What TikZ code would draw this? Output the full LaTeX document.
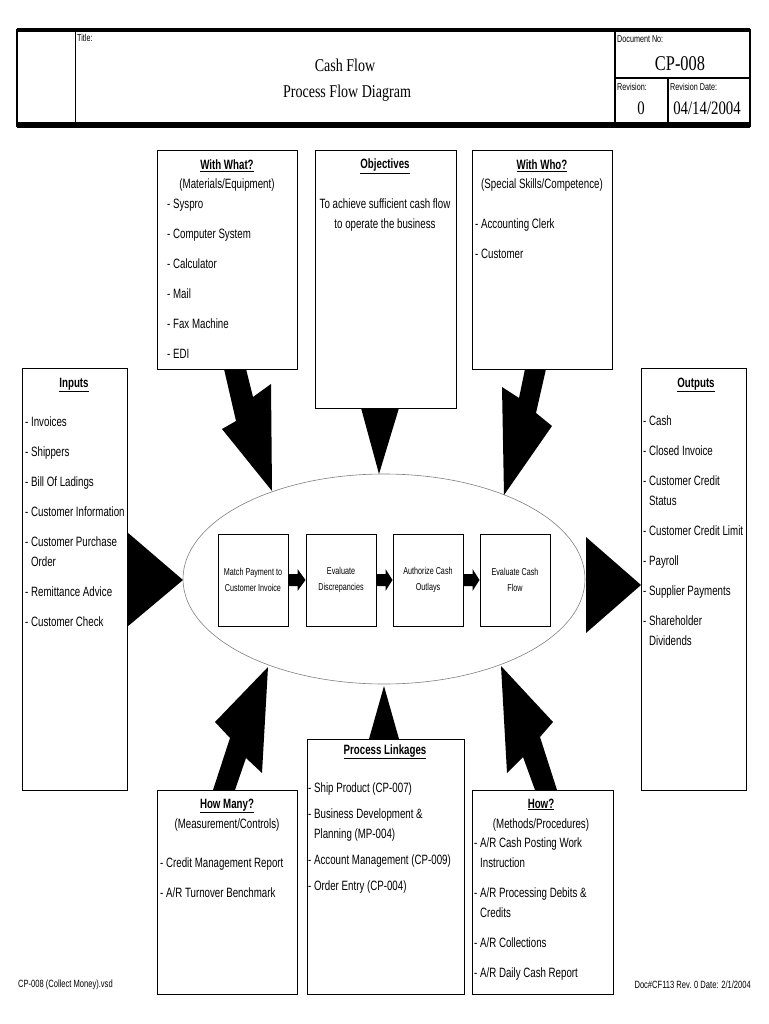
\documentclass[tikz,border=0pt]{standalone}
\usepackage{fontspec}
\setmainfont{Liberation Sans}[FakeStretch=0.72]
\newfontfamily\hdrserif{Liberation Serif}[FakeStretch=0.78]
\usetikzlibrary{calc,shapes.geometric}
\begin{document}
\begin{tikzpicture}[x=1pt,y=-1pt,
  box/.style={draw=black, line width=1.2pt, fill=white, inner sep=0pt, anchor=north west},
  pbox/.style={draw=black, line width=1pt, fill=white, inner sep=0pt, minimum width=70pt, minimum height=92pt, align=center, font=\fontsize{10}{16}\selectfont},
  hd/.style={font=\fontsize{13.5}{16}\selectfont\bfseries, anchor=base, inner sep=0pt},
  sub/.style={font=\fontsize{13.5}{16}\selectfont, anchor=base, inner sep=0pt},
  lst/.style={font=\fontsize{13.5}{20}\selectfont, align=left, anchor=north west, inner sep=0pt},
  tiny/.style={font=\fontsize{10}{11}\selectfont, anchor=north west, inner sep=0pt},
  blk/.style={fill=black}]
\useasboundingbox (0,0) rectangle (768,1024);
% ---------------- header ----------------
\draw[line width=2pt] (17,30) rectangle (750,126);
\fill (17,28.5) rectangle (750,32);
\fill (17,122) rectangle (750,128);
\draw[line width=1pt] (75,30) -- (75,122);
\draw[line width=2pt] (615,30) -- (615,122);
\draw[line width=2pt] (615,78) -- (750,78);
\draw[line width=1.5pt] (668,78) -- (668,122);
\node[tiny] (ttl) at (77,34) {Title:};
\node[tiny] (docno) at (617,35) {Document No:};
\node[tiny] (rev) at (617,83) {Revision:};
\node[tiny] (revd) at (670,83) {Revision Date:};
\node[font=\hdrserif\fontsize{18}{20}\selectfont, inner sep=0pt] (t1) at (345,65) {Cash Flow};
\node[font=\hdrserif\fontsize{18}{20}\selectfont, inner sep=0pt] (t2) at (347,93) {Process Flow Diagram};
\node[font=\hdrserif\fontsize{21}{23}\selectfont, inner sep=0pt] (cp) at (680,64) {CP-008};
\node[font=\hdrserif\fontsize{19}{21}\selectfont, inner sep=0pt] (rv) at (641,108) {0};
\node[font=\hdrserif\fontsize{19}{21}\selectfont, inner sep=0pt] (rdate) at (707,108) {04/14/2004};
% ---------------- central ellipse ----------------
\node[ellipse, draw=gray, line width=0.6pt, fill=white, minimum width=402pt, minimum height=210pt, inner sep=0pt] (ell) at (384,579) {};
% ---------------- big arrows ----------------
\fill[blk] (224,369) -- (236,421) -- (222,429) -- (272,491) -- (271,384) -- (253,397) -- (246,369) -- cycle;
\fill[blk] (525,369) -- (519,398) -- (502,387) -- (504,495) -- (552,426) -- (536,413) -- (546,369) -- cycle;
\fill[blk] (213,790) -- (230,738) -- (215,722) -- (268,667) -- (262,773) -- (246,758) -- (235,790) -- cycle;
\fill[blk] (535,790) -- (523,757) -- (507,773) -- (501,666) -- (553,722) -- (540,737) -- (557,790) -- cycle;
\fill[blk] (361,408) -- (399,408) -- (379,474) -- cycle;
\fill[blk] (369,739) -- (399,739) -- (384,686) -- cycle;
\fill[blk] (127,532) -- (127,627) -- (183,580) -- cycle;
\fill[blk] (586,537) -- (586,633) -- (641,585) -- cycle;
% ---------------- boxes ----------------
\node[box, minimum width=140pt, minimum height=219pt] (ww) at (157,150) {};
\node[box, minimum width=141pt, minimum height=258pt] (obj) at (315,150) {};
\node[box, minimum width=140pt, minimum height=219pt] (who) at (472,150) {};
\node[box, minimum width=105pt, minimum height=422pt] (inp) at (22,368) {};
\node[box, minimum width=105pt, minimum height=422pt] (outp) at (641,368) {};
\node[box, minimum width=140pt, minimum height=204pt] (hm) at (157,790) {};
\node[box, minimum width=157pt, minimum height=255pt] (pl) at (307,739) {};
\node[box, minimum width=141pt, minimum height=204pt] (how) at (472,790) {};
% ---------------- box texts ----------------
\node[hd] (wwh) at (227,170) {\underline{With What?}};
\node[sub] (wws) at (227,189) {(Materials/Equipment)};
\node[lst] (wwl) at (167,199) {- Syspro\\[10pt]- Computer System\\[10pt]- Calculator\\[10pt]- Mail\\[10pt]- Fax Machine\\[10pt]- EDI};
\node[hd] (objh) at (385,169) {\underline{Objectives}};
\node[lst, align=center, anchor=north] (objt) at (385,199) {To achieve sufficient cash flow\\to operate the business};
\node[hd] (whoh) at (542,170) {\underline{With Who?}};
\node[sub] (whos) at (542,189) {(Special Skills/Competence)};
\node[lst] (whol) at (475,219) {- Accounting Clerk\\[10pt]- Customer};
\node[hd] (inph) at (74,387) {\underline{Inputs}};
\node[lst] (inpl) at (25,417) {- Invoices\\[10pt]- Shippers\\[10pt]- Bill Of Ladings\\[10pt]- Customer Information\\[10pt]- Customer Purchase\\\hphantom{-\ }Order\\[10pt]- Remittance Advice\\[10pt]- Customer Check};
\node[hd] (outh) at (696,387) {\underline{Outputs}};
\node[lst] (outl) at (643,416) {- Cash\\[10pt]- Closed Invoice\\[10pt]- Customer Credit\\\hphantom{-\ }Status\\[10pt]- Customer Credit Limit\\[10pt]- Payroll\\[10pt]- Supplier Payments\\[10pt]- Shareholder\\\hphantom{-\ }Dividends};
\node[hd] (hmh) at (227,808) {\underline{How Many?}};
\node[sub] (hms) at (227,828) {(Measurement/Controls)};
\node[lst] (hml) at (160,858) {- Credit Management Report\\[10pt]- A/R Turnover Benchmark};
\node[hd] (plh) at (385,754) {\underline{Process Linkages}};
\node[lst] (pll) at (308,783) {- Ship Product (CP-007)\\[6pt]- Business Development \&\\\hphantom{-\ }Planning (MP-004)\\[6pt]- Account Management (CP-009)\\[6pt]- Order Entry (CP-004)};
\node[hd] (howh) at (541,808) {\underline{How?}};
\node[sub] (hows) at (541,828) {(Methods/Procedures)};
\node[lst] (howl) at (474,838) {- A/R Cash Posting Work\\\hphantom{-\ }Instruction\\[10pt]- A/R Processing Debits \&\\\hphantom{-\ }Credits\\[10pt]- A/R Collections\\[10pt]- A/R Daily Cash Report};
% ---------------- process steps ----------------
\node[pbox] (p1) at (253,580) {Match Payment to\\Customer Invoice};
\node[pbox] (p2) at (341,580) {Evaluate\\Discrepancies};
\node[pbox] (p3) at (428,580) {Authorize Cash\\Outlays};
\node[pbox] (p4) at (515,580) {Evaluate Cash\\Flow};
\foreach \a/\b in {p1/p2,p2/p3,p3/p4}
  \fill ($(\a.east)+(0,-6)$) -- ++(9,0) -- ++(0,-5) -- (\b.west) -- ($(\a.east)+(9,11)$) -- ++(0,-5) -- ++(-9,0) -- cycle;
% ---------------- footer ----------------
\node[font=\fontsize{10.5}{12}\selectfont, anchor=west, inner sep=0pt] (fl) at (18,985) {CP-008 (Collect Money).vsd};
\node[font=\fontsize{10.5}{12}\selectfont, anchor=east, inner sep=0pt] (fr) at (751,985) {Doc\#CF113 Rev. 0 Date: 2/1/2004};
\end{tikzpicture}
\end{document}
